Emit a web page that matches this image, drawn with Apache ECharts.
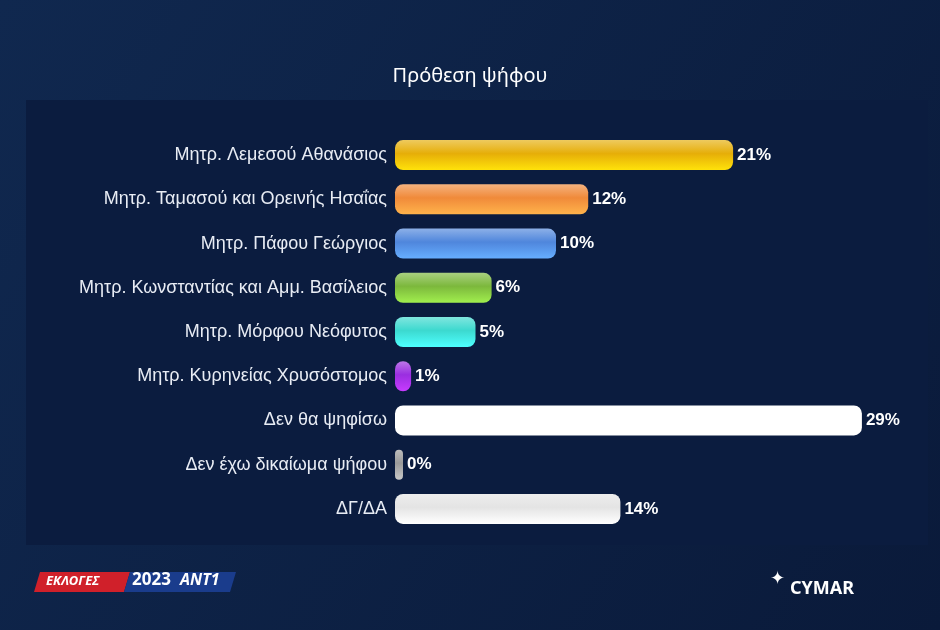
<!DOCTYPE html>
<html><head><meta charset="utf-8">
<script src="https://cdn.jsdelivr.net/npm/echarts@6/dist/echarts.min.js"></script>
<style>html,body{margin:0;padding:0;background:#0d2147}#main{width:940px;height:630px}</style>
</head><body><div id="main"></div>
<script>
var categories = ['Μητρ. Λεμεσού Αθανάσιος', 'Μητρ. Ταμασού και Ορεινής Ησαΐας', 'Μητρ. Πάφου Γεώργιος',
  'Μητρ. Κωνσταντίας και Αμμ. Βασίλειος', 'Μητρ. Μόρφου Νεόφυτος', 'Μητρ. Κυρηνείας Χρυσόστομος',
  'Δεν θα ψηφίσω', 'Δεν έχω δικαίωμα ψήφου', 'ΔΓ/ΔΑ'];
var values = [21, 12, 10, 6, 5, 1, 29, 0, 14];
var colors = ['#e6ae08', '#f08a3a', '#4f86dc', '#7cb83c', '#3cd9cf', '#9a2ee0', '#ffffff', '#9a9a9a', '#e4e4e4'];

function shade(c) {
  return new echarts.graphic.LinearGradient(0, 0, 0, 1, [
    {offset: 0, color: echarts.color.lift(c, 0.35)},
    {offset: 0.45, color: c},
    {offset: 1, color: echarts.color.lift(c, -0.3)}
  ]);
}

var chart = echarts.init(document.getElementById('main'));
chart.setOption({
  backgroundColor: new echarts.graphic.LinearGradient(0, 0, 1, 1, [
    {offset: 0, color: '#10284f'}, {offset: 1, color: '#0a1a3a'}]),
  graphic: [
    {type: 'rect', shape: {x: 26, y: 100, width: 902, height: 445}, style: {fill: '#0b1c3f'}, z: -1},
    {type: 'text', left: 'center', top: 66, style: {text: 'Πρόθεση ψήφου', fill: '#fff', font: '20px "Noto Sans"'}},
    {type: 'polygon', shape: {points: [[40, 572], [130, 572], [124, 592], [34, 592]]}, style: {fill: '#d0202a'}},
    {type: 'polygon', shape: {points: [[130, 572], [236, 572], [230, 592], [124, 592]]}, style: {fill: '#1a3c8c'}},
    {type: 'text', left: 46, top: 575, style: {text: 'ΕΚΛΟΓΕΣ', fill: '#fff', font: 'italic bold 13px "Noto Sans"'}},
    {type: 'text', left: 132, top: 572, style: {text: '2023', fill: '#fff', font: 'bold 17px "Noto Sans"'}},
    {type: 'text', left: 180, top: 572, style: {text: 'ANT1', fill: '#fff', font: 'italic bold 16px "Noto Sans"'}},
    {type: 'text', left: 790, top: 580, style: {text: 'CYMAR', fill: '#fff', font: 'bold 18px "Noto Sans"'}},
    {type: 'text', left: 770, top: 570, style: {text: '✦', fill: '#fff', font: '18px "DejaVu Sans"'}}
  ],
  grid: {left: 395, right: 62, top: 133, bottom: 99},
  xAxis: {type: 'value', min: 0, max: 30, show: false},
  yAxis: {
    type: 'category', data: categories, inverse: true,
    axisLine: {show: false}, axisTick: {show: false},
    axisLabel: {color: '#e8ecf4', fontSize: 18, fontFamily: 'Liberation Sans', margin: 8}
  },
  series: [{
    type: 'bar', barWidth: 30, barMinHeight: 8,
    data: values.map(function (v, i) {
      return {value: v, itemStyle: {color: shade(colors[i]), borderRadius: 8}};
    }),
    label: {show: true, position: 'right', formatter: '{c}%', color: '#fff', fontSize: 17, fontWeight: 'bold', fontFamily: 'Liberation Sans', distance: 4}
  }]
});
</script></body></html>
